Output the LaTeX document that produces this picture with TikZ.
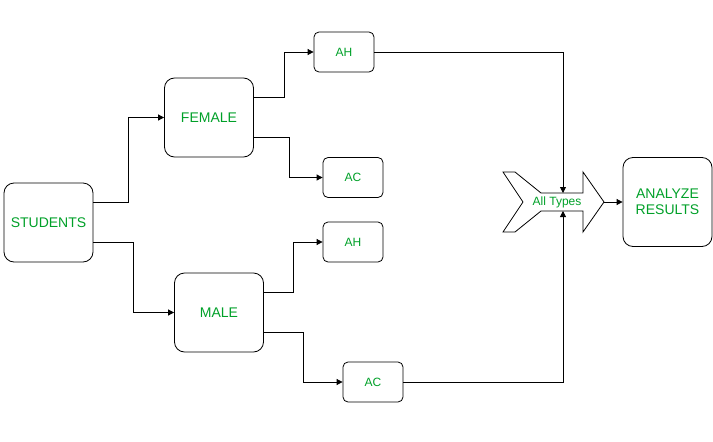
\documentclass[tikz,border=0pt]{standalone}
\usepackage{fontspec}
\setmainfont{Liberation Sans}
\usetikzlibrary{arrows.meta}
\definecolor{txt}{RGB}{0,160,40}
\begin{document}
\begin{tikzpicture}[x=1pt,y=-1pt,
  big/.style={draw,rounded corners=10pt,minimum width=89pt,minimum height=79pt,text=txt,font=\fontsize{14}{16}\selectfont,align=center,line width=0.8pt},
  small/.style={draw,rounded corners=5pt,minimum width=60pt,minimum height=40pt,text=txt,font=\fontsize{12}{14}\selectfont,line width=0.8pt},
  conn/.style={-{Triangle[length=6pt,width=6pt]},line width=0.8pt}]
\useasboundingbox (0,0) rectangle (713,442);
\node[big] (st) at (48.5,222.5) {STUDENTS};
\node[big] (fe) at (209,117.5) {FEMALE};
\node[big] (ma) at (219,312.5) {MALE};
\node[small] (ah1) at (344,52) {AH};
\node[small] (ac1) at (353,177.5) {AC};
\node[small] (ah2) at (353,242) {AH};
\node[small] (ac2) at (373,382) {AC};
\node[big,minimum height=89pt] (an) at (667.5,202) {ANALYZE\\RESULTS};
\draw[line width=0.8pt] (503,172) -- (515,172) -- (541,193) -- (583,193) -- (583,172) -- (604,202) -- (583,232) -- (583,211) -- (541,211) -- (515,232) -- (503,232) -- (523,202) -- cycle;
\node[text=txt,font=\fontsize{12}{14}\selectfont] (at) at (557,202) {All Types};
\coordinate (tip) at (604,202);
\coordinate (ct) at (563,193);
\coordinate (cb) at (563,211);
\draw[conn] (st.east |- 0,202) -- (128,202) |- (fe.west);
\draw[conn] (st.east |- 0,242) -- (133,242) |- (ma.west);
\draw[conn] (fe.east |- 0,97) -- (284,97) |- (ah1.west);
\draw[conn] (fe.east |- 0,137) -- (289,137) |- (ac1.west);
\draw[conn] (ma.east |- 0,292) -- (293,292) |- (ah2.west);
\draw[conn] (ma.east |- 0,332) -- (303,332) |- (ac2.west);
\draw[conn] (ah1.east) -| (ct);
\draw[conn] (ac2.east) -| (cb);
\draw[conn] (tip) -- (an.west);
\end{tikzpicture}
\end{document}
